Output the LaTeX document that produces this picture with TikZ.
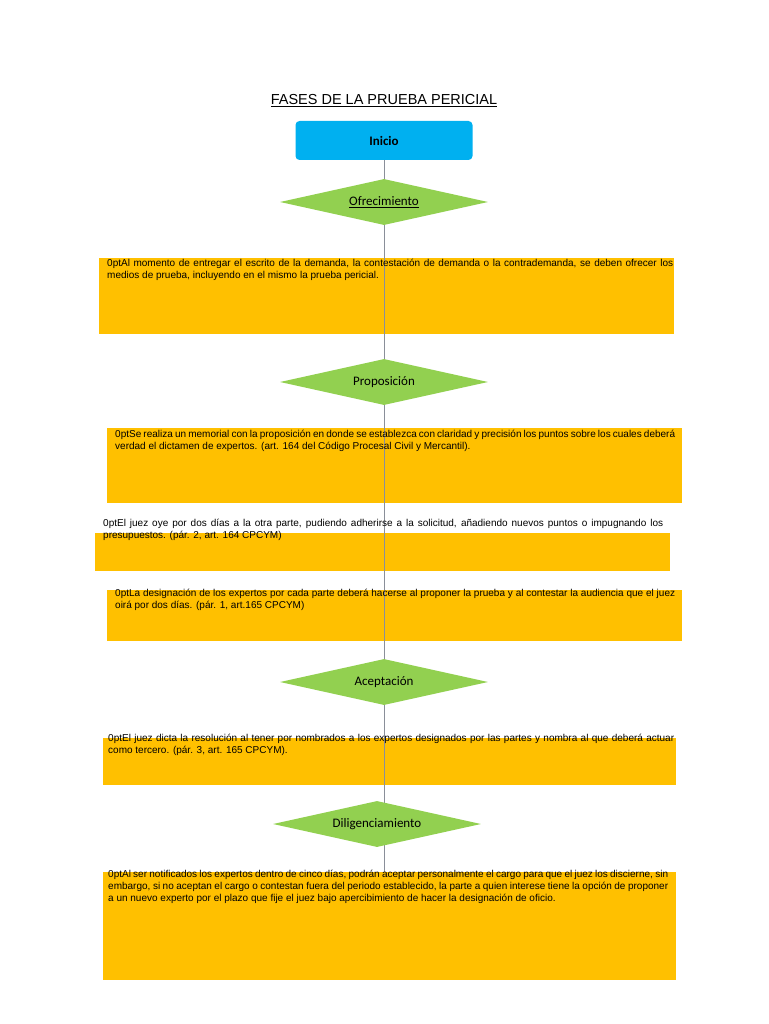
\documentclass[tikz,border=0pt]{standalone}
\usepackage{fontspec}
\setmainfont{Liberation Sans}
\newfontfamily\calfam{Carlito}
\usetikzlibrary{shapes.geometric}
\definecolor{org}{HTML}{FFC000}
\definecolor{grn}{HTML}{92D050}
\definecolor{cyn}{HTML}{00B0F0}
\definecolor{lin}{HTML}{8A8F99}
\hyphenpenalty=10000
\exhyphenpenalty=10000
\begin{document}
\begin{tikzpicture}[x=1pt,y=-1pt,
 obox/.style={fill=org,draw=none},
 dia/.style={diamond,fill=grn,draw=none,aspect=4.7,minimum width=208pt,minimum height=46pt,inner sep=0pt,font=\calfam\fontsize{13}{15}\selectfont},
 btxt/.style={anchor=north west,inner sep=0pt,align=justify,font=\hyphenpenalty=10000\fontsize{15.8}{21.5}\selectfont},
 stxt/.style={anchor=north west,inner sep=0pt,align=justify,font=\hyphenpenalty=10000\fontsize{14.6}{17}\selectfont}]
\useasboundingbox (0,0) rectangle (768,1024);
\fill[white] (0,0) rectangle (768,1024);
\node at (384,101) {\fontsize{14.5}{16}\selectfont\underline{FASES DE LA PRUEBA PERICIAL}};
% boxes
\fill[obox] (99,258) rectangle (674,334);
\fill[obox] (107,428) rectangle (682,503);
\fill[obox] (95,533) rectangle (670,571);
\fill[obox] (107,590) rectangle (682,641);
\fill[obox] (103,738) rectangle (676,785);
\fill[obox] (103,872) rectangle (676,980);
\node[fill=cyn,rounded corners=4pt,minimum width=177pt,minimum height=39pt,inner sep=0pt,font=\calfam\bfseries\fontsize{13}{15}\selectfont] (inicio) at (384,140.5) {Inicio};
\coordinate (end) at (384,872);
\draw[lin,line width=1pt] (inicio.south) -- (end);
\node[dia] (ofr) at (384,202) {\underline{Ofrecimiento}};
\node[dia] (pro) at (384,382) {Proposición};
\node[dia] (ace) at (384,682) {Aceptación};
\node[dia] (dil) at (377,824) {Diligenciamiento};
\node[btxt,text width=566pt] (t1) at (107,259) {Al momento de entregar el escrito de la demanda, la contestación de demanda o la contrademanda, se deben ofrecer los medios de prueba, incluyendo en el mismo la prueba pericial.};
\node[stxt,text width=560pt] (t2) at (115,430) {Se realiza un memorial con la proposición en donde se establezca con claridad y precisión los puntos sobre los cuales deberá verdad el dictamen de expertos. (art. 164 del Código Procesal Civil y Mercantil).};
\node[stxt,text width=560pt] (t3) at (103,519) {El juez oye por dos días a la otra parte, pudiendo adherirse a la solicitud, añadiendo nuevos puntos o impugnando los presupuestos. (pár. 2, art. 164 CPCYM)};
\node[stxt,text width=560pt] (t4) at (115,589) {La designación de los expertos por cada parte deberá hacerse al proponer la prueba y al contestar la audiencia que el juez oirá por dos días. (pár. 1, art.165 CPCYM)};
\node[stxt,text width=566pt] (t5) at (108,734) {El juez dicta la resolución al tener por nombrados a los expertos designados por las partes y nombra al que deberá actuar como tercero. (pár. 3, art. 165 CPCYM).};
\node[btxt,text width=560pt] (t6) at (108,870) {Al ser notificados los expertos dentro de cinco días, podrán aceptar personalmente el cargo para que el juez los discierne, sin embargo, si no aceptan el cargo o contestan fuera del periodo establecido, la parte a quien interese tiene la opción de proponer a un nuevo experto por el plazo que fije el juez bajo apercibimiento de hacer la designación de oficio.};
\end{tikzpicture}
\end{document}
